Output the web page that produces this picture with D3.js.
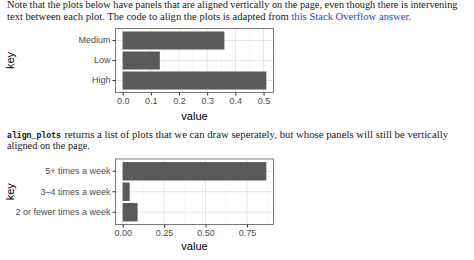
<!DOCTYPE html>
<html>
<head>
<meta charset="utf-8">
<script src="https://cdn.jsdelivr.net/npm/d3@7"></script>
<style>
  body { margin: 0; background: #fff; }
  svg { display: block; }
</style>
</head>
<body>
<svg id="page"></svg>
<script>
// 1. Data
const keys1 = ["High", "Low", "Medium"];
const values1 = [0.51, 0.132, 0.361];
const ticks1 = [0, 0.1, 0.2, 0.3, 0.4, 0.5];

const keys2 = ["2 or fewer times a week", "3\u20134 times a week", "5+ times a week"];
const values2 = [0.09, 0.042, 0.867];
const ticks2 = [0, 0.25, 0.5, 0.75];

// 2. Page setup
const W = 474, H = 260;
const svg = d3.select("#page").attr("width", W).attr("height", H);
svg.append("rect").attr("width", W).attr("height", H).attr("fill", "#fff");

const serif = "'Liberation Serif', 'DejaVu Serif', serif";
const sans = "'Liberation Sans', Arial, sans-serif";
const mono = "'Liberation Mono', 'DejaVu Sans Mono', monospace";

// fit a text element to the width it takes in the picture
function fitLine(t, target) {
  const w = t.node().getComputedTextLength();
  const fs = parseFloat(t.attr("font-size"));
  t.attr("font-size", (fs * target / w).toFixed(2));
}

function para(x, y, parts, target) {
  const t = svg.append("text").attr("x", x).attr("y", y)
    .attr("font-family", serif).attr("font-size", 11).attr("fill", "#222");
  parts.forEach((p) => {
    const s = t.append("tspan").text(p.text);
    if (p.link) s.attr("fill", "#3b3bcc");
  });
  if (target) fitLine(t, target);
  return t;
}

// 3. Paragraphs
para(7, 8, [{ text: "Note that the plots below have panels that are aligned vertically on the page, even though there is intervening" }], 451);
para(7, 19.5, [
  { text: "text between each plot. The code to align the plots is adapted from " },
  { text: "this Stack Overflow answer", link: true },
  { text: "." }
], 404);

const code = svg.append("text").attr("x", 7).attr("y", 137.5)
  .attr("font-family", mono).attr("font-weight", "bold")
  .attr("font-size", 9).attr("fill", "#111").text("align_plots");
fitLine(code, 54);
para(64.5, 137.5, [{ text: "returns a list of plots that we can draw seperately, but whose panels will still be vertically" }], 383.5);
para(7, 149, [{ text: "aligned on the page." }], 83);

// 4. Bar chart panel
function drawPanel(top, bottom, keys, values, ticks, fmt, titleY) {
  const left = 115.5, right = 273.5;
  const g = svg.append("g");
  const vmax = d3.max(values);

  const x = d3.scaleLinear().domain([-0.05 * vmax, 1.05 * vmax]).range([left, right]);
  const y = d3.scaleBand().domain(keys.slice().reverse()).range([top, bottom])
    .paddingInner(0.1).paddingOuter(0.15);

  // minor grid lines halfway between major breaks
  const step = ticks[1] - ticks[0];
  const minor = d3.range(ticks[0] - step / 2, ticks[ticks.length - 1] + step, step)
    .filter((d) => x(d) > left && x(d) < right);

  g.selectAll(".minor").data(minor).enter().append("line")
    .attr("x1", (d) => x(d)).attr("x2", (d) => x(d))
    .attr("y1", top).attr("y2", bottom)
    .attr("stroke", "#f2f2f2").attr("stroke-width", 0.6);
  g.selectAll(".major").data(ticks).enter().append("line")
    .attr("x1", (d) => x(d)).attr("x2", (d) => x(d))
    .attr("y1", top).attr("y2", bottom)
    .attr("stroke", "#e6e6e6").attr("stroke-width", 1);
  g.selectAll(".hgrid").data(keys).enter().append("line")
    .attr("x1", left).attr("x2", right)
    .attr("y1", (d) => y(d) + y.bandwidth() / 2).attr("y2", (d) => y(d) + y.bandwidth() / 2)
    .attr("stroke", "#e6e6e6").attr("stroke-width", 1);

  // bars
  g.selectAll(".bar").data(keys).enter().append("rect")
    .attr("x", x(0))
    .attr("y", (d) => y(d))
    .attr("width", (d, i) => x(values[i]) - x(0))
    .attr("height", y.bandwidth())
    .attr("fill", "#595959");

  // panel border
  g.append("rect").attr("x", left).attr("y", top)
    .attr("width", right - left).attr("height", bottom - top)
    .attr("fill", "none").attr("stroke", "#6a6a6a").attr("stroke-width", 0.9);

  // axes
  const ax = g.append("g").attr("transform", `translate(0,${bottom})`)
    .call(d3.axisBottom(x).tickValues(ticks).tickFormat(d3.format(fmt)).tickSize(3).tickPadding(2));
  const ay = g.append("g").attr("transform", `translate(${left},0)`)
    .call(d3.axisLeft(y).tickSize(3).tickPadding(2));
  [ax, ay].forEach((a) => {
    a.select(".domain").remove();
    a.selectAll(".tick line").attr("stroke", "#333");
    a.selectAll(".tick text").attr("fill", "#4d4d4d")
      .attr("font-family", sans).attr("font-size", 9);
  });

  // axis titles
  g.append("text").attr("x", (left + right) / 2).attr("y", titleY)
    .attr("text-anchor", "middle").attr("font-family", sans).attr("font-size", 11)
    .text("value");
  g.append("text")
    .attr("transform", `translate(14,${(top + bottom) / 2}) rotate(-90)`)
    .attr("text-anchor", "middle").attr("font-family", sans).attr("font-size", 11)
    .text("key");
}

drawPanel(28.5, 92.5, keys1, values1, ticks1, ".1f", 120);
drawPanel(159, 224.5, keys2, values2, ticks2, ".2f", 249.5);
</script>
</body>
</html>
